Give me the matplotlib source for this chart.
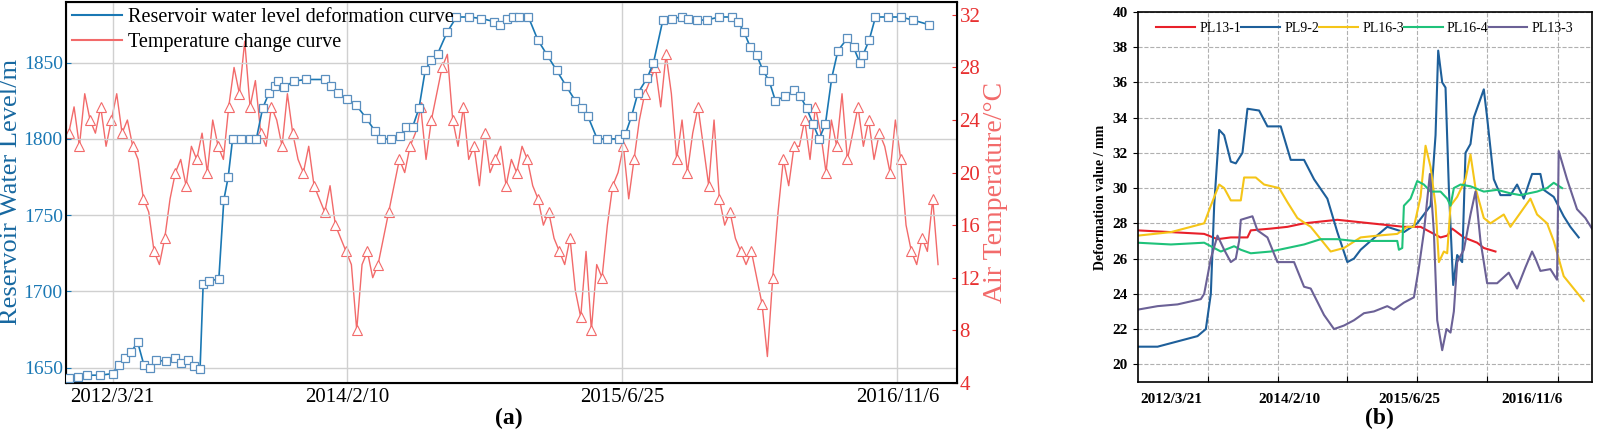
import numpy as np
import matplotlib
matplotlib.use("Agg")
import matplotlib.pyplot as plt
from matplotlib.lines import Line2D

plt.rcParams['font.family'] = ['Liberation Serif', 'DejaVu Serif']

# ---- panel (a) data ----
wl_x = [110,125,140,160,180,190,200,210,220,230,240,250,265,280,290,300,310,320,325,335,350,358,365,372,385,400,410,420,430,440,445,455,470,490,520,530,540,555,570,585,600,610,625,640,650,660,670,680,690,700,715,730,750,770,790,800,810,820,830,845,860,875,890,905,920,930,940,955,970,990,1000,1010,1020,1035,1045,1060,1075,1090,1100,1115,1130,1150,1170,1180,1190,1200,1210,1220,1230,1240,1255,1270,1280,1290,1300,1310,1320,1330,1340,1355,1365,1375,1380,1390,1400,1420,1440,1460,1485]
wl_y = [1643,1644,1645,1645,1646,1652,1656,1660,1667,1652,1650,1655,1654,1656,1653,1655,1651,1649,1705,1707,1708,1760,1775,1800,1800,1800,1800,1820,1830,1835,1838,1834,1838,1839,1839,1835,1830,1826,1822,1814,1805,1800,1800,1802,1808,1808,1820,1845,1852,1856,1870,1880,1880,1879,1877,1875,1879,1880,1880,1880,1865,1855,1845,1835,1825,1820,1815,1800,1800,1800,1803,1815,1830,1840,1850,1878,1879,1880,1879,1878,1878,1880,1880,1877,1870,1860,1855,1845,1838,1825,1828,1832,1828,1820,1810,1800,1810,1840,1858,1866,1860,1850,1855,1865,1880,1880,1880,1878,1875]

temp = [23,25,22,26,24,23,25,22,24,26,23,24,22,21,
        18,17,14,13,15,
        18,20,21,19,22,21,23,20,24,22,21,25,
        28,26,30,25,27,23,
        22,25,24,22,26,23,21,
        20,22,19,18,17,19,16,15,14,13,
        8,13,14,12,13,15,
        17,19,21,20,22,23,25,21,24,
        26,28,29,24,22,25,
        21,22,19,23,20,21,22,19,21,20,22,21,
        19,18,16,17,15,14,13,15,
        11,9,14,8,13,12,
        16,19,20,22,18,21,
        24,26,27,28,25,29,26,
        21,24,20,23,25,22,19,24,
        18,16,17,15,14,13,14,12,
        10,6,12,
        17,21,19,22,
        22,24,21,25,23,20,24,22,26,21,23,25,22,24,21,23,22,20,24,21,
        16,14,13,15,14,18,13]

a_ticks = [180, 555, 995, 1435]
a_labels = ['2012/3/21', '2014/2/10', '2015/6/25', '2016/11/6']

# ---- panel (b) data ----
pl13_1 = ([200,300,400,440,480,530,540,600,650,700,800,900,1000,1050,1080,1110,1130,1145,1180,1220,1240,1275],
          [27.6,27.5,27.4,27.1,27.2,27.2,27.6,27.7,27.8,28.0,28.2,28.0,27.8,27.8,27.5,27.2,27.3,27.7,27.2,26.9,26.6,26.4])
pl9_2 = ([200,260,320,380,405,420,430,445,460,480,495,515,530,565,590,630,660,700,730,770,800,830,850,870,900,950,1000,1040,1060,1080,1095,1103,1115,1125,1135,1148,1160,1175,1185,1200,1210,1240,1250,1270,1290,1320,1340,1360,1385,1410,1420,1450,1480,1500,1525],
         [21.0,21.0,21.3,21.6,22.0,24,29,33.3,33.0,31.5,31.4,32.0,34.5,34.4,33.5,33.5,31.6,31.6,30.5,29.4,27.5,25.8,26.0,26.5,27.0,27.8,27.5,28.0,28.5,29,33,37.8,36.0,35.7,30,24.5,26.2,25.8,32.0,32.5,34,35.6,34,30.5,29.6,29.6,30.2,29.4,30.8,30.8,29.9,29.5,28.4,27.8,27.2])
pl16_3 = ([200,300,400,420,445,460,480,510,520,555,580,625,650,680,720,780,820,870,920,980,1010,1030,1050,1065,1080,1095,1105,1120,1130,1140,1160,1185,1200,1215,1240,1260,1300,1320,1350,1380,1400,1430,1450,1480,1510,1540],
          [27.3,27.5,28.0,29,30.2,30.0,29.3,29.3,30.6,30.6,30.2,30.0,29.2,28.3,27.8,26.4,26.6,27.2,27.3,27.4,27.8,27.8,29.5,32.4,31.2,29.0,25.8,26.4,26.3,29.0,29.5,30.5,31.9,30.0,28.3,28.0,28.5,27.8,28.6,29.4,28.5,28.0,27.0,25.0,24.3,23.6])
pl16_4 = ([200,300,400,430,450,490,510,540,600,650,700,750,800,850,900,960,980,985,995,1000,1020,1040,1060,1080,1110,1130,1140,1150,1170,1200,1240,1280,1320,1350,1400,1430,1450,1475],
          [26.9,26.8,26.9,26.6,26.4,26.7,26.5,26.3,26.4,26.6,26.8,27.1,27.1,27.0,27.0,27.0,27.0,26.5,26.6,29.0,29.4,30.4,30.2,29.8,29.8,29.4,29.0,30.0,30.2,30.1,29.8,29.9,29.7,29.6,29.8,30.0,30.3,30.0])
pl13_3 = ([200,260,320,390,400,420,440,460,480,495,505,510,545,560,590,620,670,700,720,760,790,820,850,880,910,950,970,1000,1030,1045,1060,1078,1090,1100,1115,1128,1140,1150,1160,1180,1200,1215,1230,1250,1280,1315,1340,1365,1385,1395,1410,1440,1460,1465,1490,1520,1545,1565],
          [23.1,23.3,23.4,23.7,24,26,27.3,26.5,25.8,26.0,27.0,28.2,28.4,27.6,27.2,25.8,25.8,24.4,24.3,22.8,22.0,22.2,22.5,22.9,23.0,23.3,23.1,23.5,23.8,25.5,27.5,30.8,27.5,22.5,20.8,22.0,21.8,23.0,25.8,26.5,28.5,29.8,27.0,24.6,24.6,25.2,24.3,25.5,26.4,26.0,25.3,25.4,24.8,32.1,30.5,28.8,28.3,27.7])
b_grid = [412, 622, 830, 1040, 1250, 1462]
b_lab_pos = [300, 655, 1015, 1385]
b_labels = ['2012/3/21', '2014/2/10', '2015/6/25', '2016/11/6']

fig = plt.figure(figsize=(16, 4.38), dpi=100)

# ---- panel (a) ----
blue = '#1a78b4'
red = '#f26a6a'
ax = fig.add_axes([0.041, 0.126, 0.557, 0.870])
ax.plot(wl_x, wl_y, color=blue, lw=1.2, marker='s', ms=6, mfc='white', mec='#5a8fbf', mew=0.9, zorder=3)
ax.set_xlim(105, 1530)
ax.set_ylim(1640, 1890)
ax.set_yticks([1650, 1700, 1750, 1800, 1850])
ax.tick_params(axis='y', colors=blue, labelsize=14, direction='in', pad=2)
ax.set_ylabel('Reservoir Water Level/m', color='#1768a0', fontsize=19, labelpad=1)
ax.set_xticks(a_ticks)
ax.set_xticklabels(a_labels, fontsize=15)
ax.tick_params(axis='x', direction='in', length=0)
ax.grid(True, color='#d0d0d0', lw=1)
for s in ax.spines.values():
    s.set_linewidth(1.5)
ax2 = ax.twinx()
tx = np.linspace(110, 1500, len(temp))
ax2.plot(tx, temp, color=red, lw=1.0, marker='^', ms=7, mfc='white', mec=red, mew=0.8,
         markevery=2, zorder=2)
ax2.set_ylim(4, 33)
ax2.set_yticks([4, 8, 12, 16, 20, 24, 28, 32])
ax2.tick_params(axis='y', colors='#e83030', labelsize=15, direction='in', pad=2)
ax2.set_ylabel('Air Temperature/°C', color='#f26a6a', fontsize=20, labelpad=2)
ax.set_zorder(ax2.get_zorder() + 1)
ax.patch.set_visible(False)
h = [Line2D([], [], color=blue, lw=1.5), Line2D([], [], color=red, lw=1.5)]
ax.legend(h, ['Reservoir water level deformation curve', 'Temperature change curve'],
          loc='upper left', frameon=False, fontsize=14.5, handlelength=2.5,
          borderaxespad=0.1, labelspacing=0.3, borderpad=0.2, handletextpad=0.3)
fig.text(0.318, 0.045, '(a)', fontsize=17, fontweight='bold', ha='center', va='center')

# ---- panel (b) ----
bx = fig.add_axes([0.711, 0.128, 0.284, 0.845])
series = [(pl13_1, 'PL13-1', '#e8202a'), (pl9_2, 'PL9-2', '#1e5f9a'), (pl16_3, 'PL16-3', '#f5c518'),
          (pl16_4, 'PL16-4', '#1fc27a'), (pl13_3, 'PL13-3', '#6b6196')]
for (xs, ys), name, c in series:
    bx.plot(xs, ys, color=c, lw=1.5, label=name)
bx.set_xlim(200, 1565)
bx.set_ylim(19, 40)
bx.set_yticks(range(20, 41, 2))
bx.tick_params(axis='y', labelsize=11, direction='out')
for t in bx.get_yticklabels():
    t.set_fontweight('bold')
bx.set_xticks(b_grid)
bx.set_xticklabels([])
bx.set_xticks(b_lab_pos, minor=True)
bx.set_xticklabels(b_labels, minor=True, fontsize=11, fontweight='bold')
bx.tick_params(axis='x', which='minor', length=0, pad=8)
bx.tick_params(axis='x', which='major', direction='in', length=4)
bx.grid(True, which='major', color='#b0b0b0', ls='--', lw=0.8)
bx.set_ylabel('Deformation value / mm', fontsize=10, fontweight='bold')
for s in bx.spines.values():
    s.set_linewidth(1.2)
bx.legend(loc='upper center', ncol=5, frameon=False, fontsize=10, handlelength=2.8,
          columnspacing=0.0, handletextpad=0.3, borderaxespad=0.3)
fig.text(0.862, 0.045, '(b)', fontsize=17, fontweight='bold', ha='center', va='center')

fig.savefig('out.png', dpi=100)
